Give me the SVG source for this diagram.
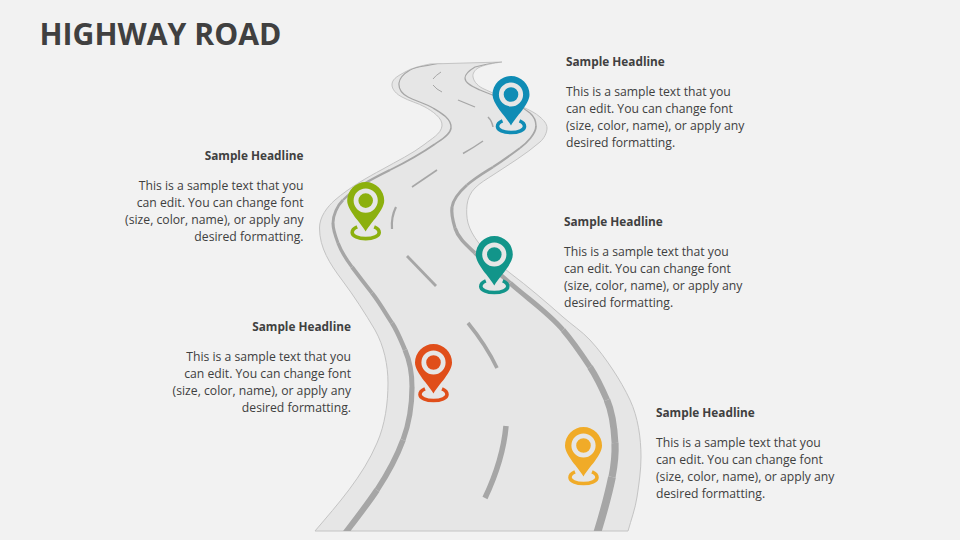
<svg xmlns="http://www.w3.org/2000/svg" width="960" height="540" viewBox="0 0 960 540">
<style>
text{font-family:"Open Sans","Noto Sans","Liberation Sans",sans-serif;fill:#404040;font-size:12.2px}
.h{font-weight:700;font-size:11.8px}
.r{text-anchor:end}
.title{font-size:30.200px;font-weight:700}
.st,.da{fill:none;stroke:#a6a6a6}
.road{fill:#e6e6e6;stroke:#c4c4c4;stroke-width:1}
.ring{fill:none;stroke:#e6e6e6;stroke-width:4.8}
</style>
<defs>
<path id="roadShape" d="M315 531C338 504 363 476 377 443C385 425 388 403 388 383C388 365 384 346 375 330C365 313 354 296 342 280C330 264 319.500 248 319.500 228C319.500 217 327 207 335 200C349 188 366 178 383 169C397 161 412 154 425 144C431 139 441 134 442 126C443 118 432 111 425 107C418 103 409 101 402 97C397 94.500 391.500 89.500 392 84C392.600 78 400 75 405 72C412.500 67.500 421 66 430 64L502 62C494 63 483 65 478 68C475 69.800 472.300 73.500 473 77C474 82.500 479 86.800 484 89C497.500 95 511.500 101.500 525 108C530.400 110.600 535.500 113 540 117C543.400 120 547 123.500 547 128C547 133 543.800 138.800 540 142C525.800 154.400 508.800 164.500 493 175C486.800 179 480.200 182.800 475 188C470.500 192.500 467.700 198.500 467 205C466.400 211 466.500 217 468 223C469.800 229.800 473.800 236.400 478 242C487 254 498 264 510 273C528.400 286.800 545.800 301.800 563 317C572 325 581.800 331.200 590 340C598.800 349.500 605.800 359.200 613 370C619 379 625.400 390 630 400C638 417 641 438 641 457C641 470 639 484 637 497C635.200 509 631.200 519.500 628 531Z"/>
<clipPath id="roadClip"><use href="#roadShape"/></clipPath>
<g id="pin">
<path fill="currentColor" d="M0 31C-5 22-18.500 10-18.500 0A18.500 18.500 0 0 1 18.500 0C18.500 10 5 22 0 31Z"/>
<circle class="ring" r="9.700"/>
<path fill="none" stroke="currentColor" stroke-width="3.600" d="M-8.500 26.300C-11.500 27.500-13.500 29.500-13.500 32C-13.500 35.500-7.500 38-0 38S13.500 35.500 13.500 32C13.500 29.500 11.500 27.500 8.500 26.300"/>
</g>
</defs>
<rect width="960" height="540" fill="#f2f2f2"/>
<text class="title" x="39.500" y="45">HIGHWAY ROAD</text>
<g id="road">
<use href="#roadShape" class="road"/>
<g clip-path="url(#roadClip)">
<g id="left-stripe" class="st">
<path stroke-width="6" d="M340 540C352 524 366 506.600 377 490"/>
<path stroke-width="5.600" d="M377 490C387.500 474 396.400 458 403 440"/>
<path stroke-width="5.200" d="M403 440C409.300 423 412 405 412 387"/>
<path stroke-width="5" d="M412 387C412 374 410.200 362 405 350"/>
<path stroke-width="4.600" d="M405 350C401 340.800 397.500 331.300 392 323"/>
<path stroke-width="4.200" d="M392 323C385.400 313 379.400 302.400 372 293"/>
<path stroke-width="3.800" d="M372 293C365.200 284.400 358.600 275.800 352 267"/>
<path stroke-width="3.400" d="M352 267C346.600 259.800 341.200 251.500 338 243"/>
<path stroke-width="3.100" d="M338 243C335.500 236.400 333 230 333 223"/>
<path stroke-width="2.800" d="M333 223C333 215 337.400 205.600 343 200"/>
<path stroke-width="2.300" d="M343 200C356.300 186.700 373 178.400 390 170"/>
<path stroke-width="1.900" d="M390 170C405.300 162.500 421 153.700 435 144"/>
<path stroke-width="1.600" d="M435 144C440.700 140 450.300 135 451 128"/>
<path stroke-width="1.400" d="M451 128C452 119 440.600 112.500 433 108"/>
<path stroke-width="1.200" d="M433 108C425.400 103.500 415.800 101.200 408 97C402.800 94.200 398.400 89 399 83C399.600 77 405 73 410 70C416 66.500 423.200 66.400 430 65L445 62"/>
</g>
<g id="right-stripe" class="st">
<path stroke-width="7.800" d="M595 540C601.600 519 607.600 498.500 612 477"/>
<path stroke-width="7.200" d="M612 477C614.200 466 615.500 454 615 443"/>
<path stroke-width="6.800" d="M615 443C614.300 429 612.600 413 607 400"/>
<path stroke-width="6.200" d="M607 400C602.200 389 596.600 377 590 367"/>
<path stroke-width="5.600" d="M590 367C581.800 354.600 572.800 341.400 563 330"/>
<path stroke-width="5" d="M563 330C547.400 311.800 528 299 510 283"/>
<path stroke-width="4.300" d="M510 283C498.800 273 486 263 475 253"/>
<path stroke-width="3.600" d="M475 253C467 245.500 458.300 238.500 455 228"/>
<path stroke-width="3.200" d="M455 228C453 221.400 451 214 452 207"/>
<path stroke-width="2.900" d="M452 207C453.400 198 460.300 191 467 185"/>
<path stroke-width="2.500" d="M467 185C475.300 177.700 483.700 172.800 493 167"/>
<path stroke-width="2.100" d="M493 167C502.400 161 511.200 154.600 520 148"/>
<path stroke-width="1.800" d="M520 148C526.400 143.200 536 134 536 126"/>
<path stroke-width="1.500" d="M536 126C536 121 533.800 116.300 530 113"/>
<path stroke-width="1.300" d="M530 113C526.300 109.800 521.500 107 517 105"/>
<path stroke-width="1.200" d="M517 105C505.300 99.400 491.700 95.200 480 90C474.600 87.600 465 84 465 78C465 73 470.800 69.500 475 67C484 64.500 493 63 502 62"/>
</g>
</g>
<g id="center-dashes" class="da">
<path stroke-width="1" d="M441 72Q435.500 75.500 433 79"/>
<path stroke-width="1" d="M433 85Q436.500 89.500 442 92"/>
<path stroke-width="1.200" d="M458 100L475 107"/>
<path stroke-width="1.500" d="M488 117Q492 121 493 127"/>
<path stroke-width="1.500" d="M483 141Q473 148 463 153.500"/>
<path stroke-width="1.600" d="M437 170L412 187"/>
<path stroke-width="2.200" d="M396 207Q391 217 392 229"/>
<path stroke-width="2.800" d="M407 256L436 286"/>
<path stroke-width="3.600" d="M468 323Q486 345 497 368"/>
<path stroke-width="5.500" d="M506 426Q503 460 485 498"/>
</g>
</g>
<g id="node-1" color="#0f8cb5">
<use href="#pin" transform="translate(511 94.500)"/>
<text class="h" x="566" y="66">Sample Headline</text>
<text x="566" y="96">This is a sample text that you</text>
<text x="566" y="113">can edit. You can change font</text>
<text x="566" y="130">(size, color, name), or apply any</text>
<text x="566" y="147">desired formatting.</text>
</g>
<g id="node-2" color="#8cb00e">
<use href="#pin" transform="translate(365.700 200.600)"/>
<text class="h r" x="303.500" y="160">Sample Headline</text>
<text class="r" x="303.500" y="190">This is a sample text that you</text>
<text class="r" x="303.500" y="207">can edit. You can change font</text>
<text class="r" x="303.500" y="224">(size, color, name), or apply any</text>
<text class="r" x="303.500" y="241">desired formatting.</text>
</g>
<g id="node-3" color="#12958a">
<use href="#pin" transform="translate(494.300 254.500)"/>
<text class="h" x="564" y="226">Sample Headline</text>
<text x="564" y="256">This is a sample text that you</text>
<text x="564" y="273">can edit. You can change font</text>
<text x="564" y="290">(size, color, name), or apply any</text>
<text x="564" y="307">desired formatting.</text>
</g>
<g id="node-4" color="#e04e1a">
<use href="#pin" transform="translate(433.500 362.500)"/>
<text class="h r" x="351" y="331">Sample Headline</text>
<text class="r" x="351" y="361">This is a sample text that you</text>
<text class="r" x="351" y="378">can edit. You can change font</text>
<text class="r" x="351" y="395">(size, color, name), or apply any</text>
<text class="r" x="351" y="412">desired formatting.</text>
</g>
<g id="node-5" color="#f0ab28">
<use href="#pin" transform="translate(583.500 445.500)"/>
<text class="h" x="656" y="417">Sample Headline</text>
<text x="656" y="447">This is a sample text that you</text>
<text x="656" y="464">can edit. You can change font</text>
<text x="656" y="481">(size, color, name), or apply any</text>
<text x="656" y="498">desired formatting.</text>
</g>
</svg>
